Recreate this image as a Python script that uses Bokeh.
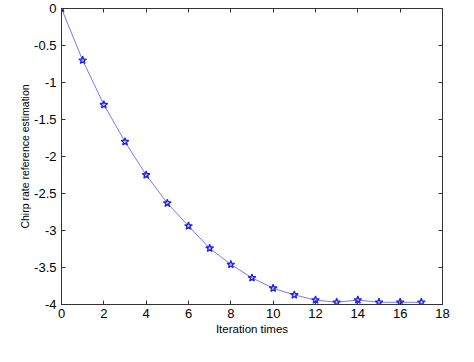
from bokeh.plotting import figure
from bokeh.models import LinearAxis, FixedTicker, Range1d
from bokeh.embed import file_html
from bokeh.resources import INLINE

iterations = list(range(18))
estimates = [0.0, -0.70, -1.30, -1.80, -2.25, -2.63, -2.94, -3.24, -3.46, -3.64,
             -3.78, -3.87, -3.94, -3.97, -3.94, -3.97, -3.97, -3.97]
x_ticks = [0, 2, 4, 6, 8, 10, 12, 14, 16, 18]
y_ticks = [0, -0.5, -1, -1.5, -2, -2.5, -3, -3.5, -4]
y_tick_labels = ["0", "-0.5", "-1", "-1.5", "-2", "-2.5", "-3", "-3.5", "-4"]

FONT = "Liberation Sans"

p = figure(width=468, height=350, output_backend="svg", toolbar_location=None,
           x_range=Range1d(0, 18), y_range=Range1d(-4, 0),
           min_border_left=61, min_border_right=26, min_border_top=8, min_border_bottom=46)
p.grid.visible = False
p.outline_line_color = "#333333"
p.background_fill_color = "white"
p.border_fill_color = "white"

p.line(iterations, estimates, line_color="#7878ff", line_width=1)
p.scatter(iterations, estimates, marker="star", size=8, line_color="#2222dd",
          fill_color=None, line_width=1.3)

def style(ax):
    ax.axis_line_color = "#333333"
    ax.major_tick_in = 4
    ax.major_tick_out = 0
    ax.minor_tick_line_color = None
    ax.major_tick_line_color = "#333333"
    ax.major_label_text_font = FONT
    ax.major_label_text_font_size = "13px"
    ax.major_label_text_color = "black"
    ax.axis_label_text_font = FONT
    ax.axis_label_text_font_style = "normal"
    ax.axis_label_text_color = "black"

xa = p.xaxis[0]
xa.ticker = FixedTicker(ticks=x_ticks)
xa.axis_label = "Iteration times"
style(xa)
xa.axis_label_text_font_size = "11.5px"
xa.major_label_standoff = 4
xa.axis_label_standoff = 2

ya = p.yaxis[0]
ya.ticker = FixedTicker(ticks=y_ticks)
ya.major_label_overrides = {t: l for t, l in zip(y_ticks, y_tick_labels)}
ya.axis_label = "Chirp rate reference estimation"
style(ya)
ya.axis_label_text_font_size = "10.5px"
ya.major_label_standoff = 5
ya.axis_label_standoff = 0

top = LinearAxis(ticker=FixedTicker(ticks=x_ticks))
style(top)
top.major_label_overrides = {t: "" for t in x_ticks}
top.major_label_standoff = 0
p.add_layout(top, "above")
right = LinearAxis(ticker=FixedTicker(ticks=y_ticks))
style(right)
right.major_label_overrides = {t: "" for t in y_ticks}
right.major_label_standoff = 0
p.add_layout(right, "right")

open("out.html", "w").write(file_html(p, INLINE))
